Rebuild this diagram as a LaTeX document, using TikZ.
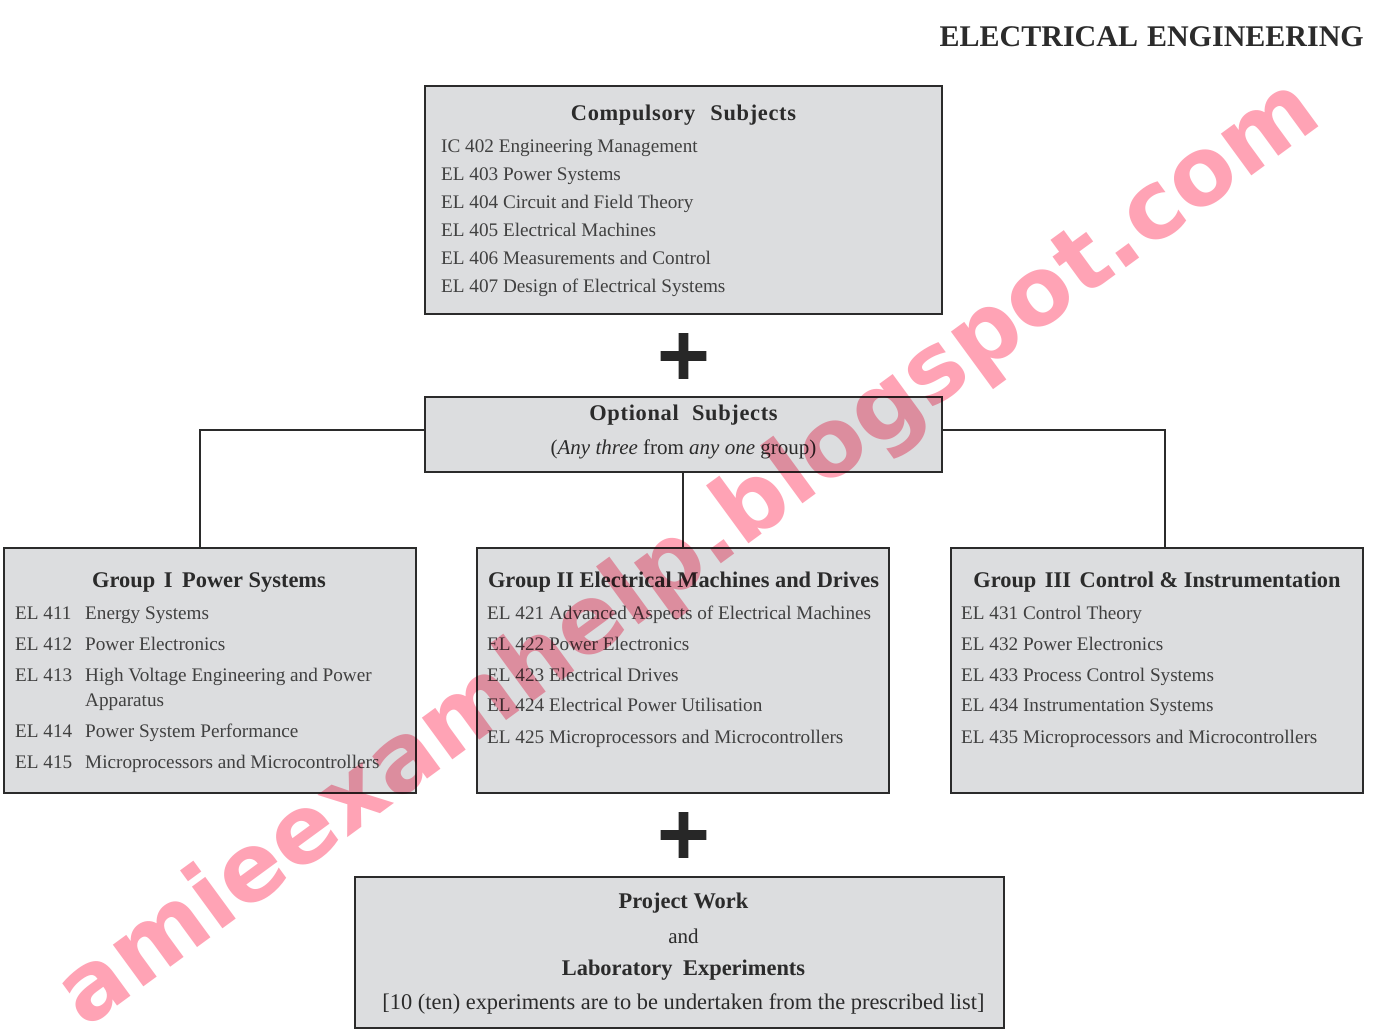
\documentclass[tikz,border=0pt]{standalone}
\usepackage{fontspec}
\setmainfont{Liberation Serif}
\newfontfamily\wm{DejaVu Sans}
\newfontfamily\plusfont[BoldFeatures={FakeBold=2.5}]{DejaVu Sans}
\newcommand{\gp}[1]{\hspace{#1pt}}
\definecolor{boxfill}{HTML}{DCDDDF}
\definecolor{ink}{HTML}{2B2B2B}
\definecolor{wmc}{HTML}{FFA3B5}
\tikzset{
 x=1pt,y=-1pt,
 panel/.style={draw=ink,line width=2pt,fill=boxfill,inner sep=0pt},
 head/.style={font=\fontsize{22.4}{24}\selectfont\bfseries,text=ink,inner sep=0pt},
 widehead/.style={font=\fontsize{22.4}{24}\selectfont\bfseries\addfontfeature{LetterSpace=3},text=ink,inner sep=0pt},
 item/.style={font=\fontsize{19.2}{22}\selectfont,text=ink!90,inner sep=0pt,anchor=base west},
 link/.style={draw=ink,line width=2pt},
 plus/.style={font=\plusfont\fontsize{70}{70}\selectfont\bfseries,text=ink!90!black,inner sep=0pt}
}
\begin{document}
\begin{tikzpicture}
\useasboundingbox (0,0) rectangle (1384,1034);
\fill[white] (0,0) rectangle (1384,1034);
\node[font=\fontsize{30}{31}\selectfont\bfseries,text=ink,anchor=base east,inner sep=0pt] (title) at (1364,46) {ELECTRICAL\gp{9}ENGINEERING};
\node[panel,minimum width=517pt,minimum height=75pt] (opt) at (683,434) {};
\node[panel,minimum width=517pt,minimum height=228pt] (comp) at (683,200) {};
\node[panel,minimum width=412pt,minimum height=245pt] (g1) at (209.5,670) {};
\node[panel,minimum width=412pt,minimum height=245pt] (g2) at (683,670) {};
\node[panel,minimum width=412pt,minimum height=245pt] (g3) at (1156.5,670) {};
\node[panel,minimum width=649pt,minimum height=151pt] (proj) at (679.5,952) {};
\coordinate (g1top) at (200,547.5);
\coordinate (g3top) at (1165,547.5);
\draw[link] (opt.west |- 0,430) -| (g1top);
\draw[link] ([xshift=-0.5pt]opt.south) -- ([xshift=-0.5pt]g2.north);
\draw[link] (opt.east |- 0,430) -| (g3top);
\node[widehead] (ch) at (683.5,115.5) {Compulsory\gp{9} Subjects};
\foreach \n/\y/\t in {a/152/IC 402 Engineering Management,b/180/EL 403 Power Systems,c/208/EL 404 Circuit and Field Theory,d/236/EL 405 Electrical Machines,e/264/EL 406 Measurements and Control,f/292/EL 407 Design of Electrical Systems}
  \node[item] (c\n) at (441,\y) {\t};
\node[plus] (p1) at (683.5,356) {+};
\node[plus] (p2) at (683.5,835) {+};
\node[widehead] (oh) at (683.5,415) {Optional\gp{7} Subjects};
\node[font=\fontsize{21}{24}\selectfont,text=ink,inner sep=0pt] (os) at (683.5,449) {(\textit{Any three} from \textit{any one} group)};
\node[head] (g1h) at (209,582.5) {Group\gp{3} I\gp{4} Power Systems};
\foreach \n/\y/\a/\t in {a/619/EL 411/Energy Systems,b/650/EL 412/Power Electronics,c/681/EL 413/High Voltage Engineering and Power,e/737/EL 414/Power System Performance,f/768/EL 415/Microprocessors and Microcontrollers}{
  \node[item] (g1\n) at (15,\y) {\a};
  \node[item] (g1t\n) at (85,\y) {\t};}
\node[item] (g1d) at (85,706) {Apparatus};
\node[head] (g2h) at (683.5,582.5) {Group II Electrical Machines and Drives};
\foreach \n/\y/\t in {a/619/EL 421 Advanced Aspects of Electrical Machines,b/650/EL 422 Power Electronics,c/681/EL 423 Electrical Drives,d/711/EL 424 Electrical Power Utilisation,e/743/EL 425 Microprocessors and Microcontrollers}
  \node[item] (g2\n) at (487,\y) {\t};
\node[head] (g3h) at (1157,582.5) {Group\gp{3} III\gp{3} Control \& Instrumentation};
\foreach \n/\y/\t in {a/619/EL 431 Control Theory,b/650/EL 432 Power Electronics,c/681/EL 433 Process Control Systems,d/711/EL 434 Instrumentation Systems,e/743/EL 435 Microprocessors and Microcontrollers}
  \node[item] (g3\n) at (961,\y) {\t};
\node[head] (pa) at (683.5,903.5) {Project Work};
\node[font=\fontsize{21}{24}\selectfont,text=ink,inner sep=0pt] (pb) at (683.5,936) {and};
\node[head] (pc) at (683.5,970.5) {Laboratory\gp{5} Experiments};
\node[font=\fontsize{22.4}{24}\selectfont,text=ink,inner sep=0pt] (pd) at (683.5,1004) {[10 (ten) experiments are to be undertaken from the prescribed list]};
\begin{scope}[blend mode=multiply]
\node[font=\wm\fontsize{94.5}{95}\selectfont\bfseries,text=wmc,rotate=36.2,inner sep=0pt] (wm) at (690,555) {amieexamhelp.blogspot.com};
\end{scope}
\end{tikzpicture}
\end{document}
